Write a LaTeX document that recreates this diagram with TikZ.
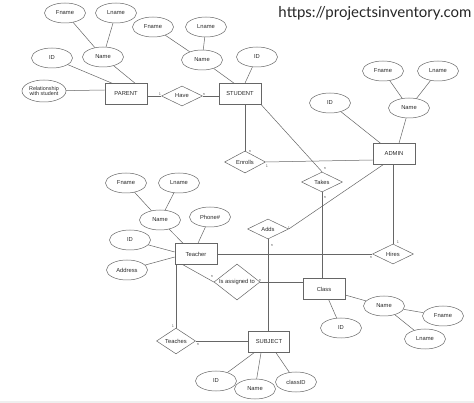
\documentclass[tikz,border=0pt]{standalone}
\usepackage{fontspec}
\setmainfont{Liberation Sans}
\newfontfamily\wmfont{Lato}
\usetikzlibrary{shapes.geometric}
\definecolor{ln}{HTML}{666666}
\definecolor{tx}{HTML}{2A2A2A}
\definecolor{strip}{HTML}{EFEFEF}
\begin{document}
\begin{tikzpicture}[x=1pt,y=-1pt,
  every node/.style={font=\fontsize{5.8}{6.4}\selectfont, text=tx},
  ent/.style={draw=ln, rectangle, minimum width=42pt, minimum height=21pt, inner sep=0pt, line width=0.6pt},
  attr/.style={draw=ln, ellipse, minimum width=41pt, minimum height=20pt, inner sep=0pt, line width=0.5pt},
  rel/.style={draw=ln, diamond, minimum width=41pt, minimum height=20pt, inner sep=0pt, line width=0.5pt},
  card/.style={font=\fontsize{3.8}{4}\selectfont, text=ln, inner sep=0pt},
  conn/.style={draw=ln, line width=0.5pt}]
\useasboundingbox (0,0) rectangle (474,403);
\fill[white] (0,0) rectangle (474,403);
\fill[strip] (0,401) rectangle (474,403);

% watermark
\node[font=\wmfont\fontsize{15}{17}\selectfont, text=black!85] (wm) at (375,13) {https://projectsinventory.com};

% PARENT
\node[ent] (parent) at (126,94) {PARENT};
\node[attr] (pF) at (65,13) {Fname};
\node[attr] (pL) at (116,13) {Lname};
\node[attr] (pN) at (103,57) {Name};
\node[attr] (pID) at (52,58) {ID};
\node[attr, minimum width=44pt, minimum height=22pt, align=center, font=\fontsize{5.4}{5.8}\selectfont] (pRel) at (44,91) {Relationship\\with student};

% STUDENT
\node[ent] (student) at (240,94) {STUDENT};
\node[attr] (sF) at (153,27) {Fname};
\node[attr] (sL) at (206,27) {Lname};
\node[attr] (sN) at (202,60) {Name};
\node[attr] (sID) at (257,57) {ID};

\node[rel] (have) at (182,96) {Have};

% ADMIN
\node[ent] (admin) at (394,154) {ADMIN};
\node[attr] (aF) at (383,71) {Fname};
\node[attr] (aL) at (438,71) {Lname};
\node[attr] (aN) at (409,108) {Name};
\node[attr] (aID) at (330,103) {ID};

\node[rel] (enrolls) at (245,162) {Enrolls};
\node[rel] (takes) at (322,182) {Takes};
\node[rel] (adds) at (268,229) {Adds};
\node[rel] (hires) at (393,254) {Hires};

% Teacher
\node[ent] (teacher) at (196,254) {Teacher};
\node[attr] (tF) at (126,183) {Fname};
\node[attr] (tL) at (179,183) {Lname};
\node[attr] (tN) at (160,220) {Name};
\node[attr] (tP) at (210,217) {Phone\#};
\node[attr] (tID) at (130,240) {ID};
\node[attr] (tA) at (127,270) {Address};

\node[rel, minimum width=46pt, minimum height=36pt] (assigned) at (237,282) {\makebox[0pt]{Is assigned to}};
\node[rel, minimum width=39pt, minimum height=18pt] (teaches) at (176,341) {Teaches};

% Class
\node[ent] (class) at (324,289) {Class};
\node[attr] (cID) at (341,328) {ID};
\node[attr] (cN) at (384,306) {Name};
\node[attr] (cF) at (443,316) {Fname};
\node[attr] (cL) at (425,339) {Lname};

% SUBJECT
\node[ent, minimum width=41pt] (subject) at (269,342) {SUBJECT};
\node[attr] (suID) at (216,381) {ID};
\node[attr] (suN) at (255,389) {Name};
\node[attr] (suC) at (296,382) {classID};

% attribute connectors
\path[conn] (pF) -- (pN);
\path[conn] (pL) -- (pN);
\path[conn] (pN) -- ([xshift=9pt]parent.north);
\path[conn] (pID) -- ([xshift=-14pt]parent.north);
\path[conn] (pRel) -- ([yshift=4pt]parent.west);

\path[conn] (sF) -- (sN);
\path[conn] (sL) -- (sN);
\path[conn] (sN) -- ([xshift=-6pt]student.north);
\path[conn] (sID) -- (student);

\path[conn] (aF) -- (aN);
\path[conn] (aL) -- (aN);
\path[conn] (aN) -- ([xshift=5pt]admin.north);
\path[conn] (aID) -- (admin);

\path[conn] (tF) -- (tN);
\path[conn] (tL) -- (tN);
\path[conn] (tN) -- ([xshift=-13pt]teacher.north);
\path[conn] (tP) -- ([xshift=2pt]teacher.north);
\path[conn] (tID) -- ([yshift=2pt]teacher.west);
\path[conn] (tA) -- ([yshift=-3pt]teacher.west);

\path[conn] (class) -- (cID);
\path[conn] (class) -- (cN);
\path[conn] (cN) -- (cF);
\path[conn] (cN) -- (cL);

\path[conn] ([xshift=-15pt]subject.south) -- (suID);
\path[conn] ([xshift=-8pt]subject.south) -- (suN);
\path[conn] ([xshift=7pt]subject.south) -- (suC);

% relationship connectors
\path[conn] (parent.east |- have.west) -- (have.west);
\path[conn] (have.east) -- (student.west |- have.east);
\path[conn] (enrolls.north |- student.south) -- (enrolls.north);
\path[conn] (enrolls.east) -- ([yshift=-6pt]admin.west);
\path[conn] (student.south east) -- (takes.north);
\path[conn] (takes.south) -- (class.north -| takes.south);
\path[conn] ([xshift=-11pt]admin.south) -- (adds.east);
\path[conn] (adds.south) -- (subject.north -| adds.south);
\path[conn] (hires.north |- admin.south) -- (hires.north);
\path[conn] (teacher.east) -- (hires.west);
\path[conn] ([xshift=-13pt]teacher.south) -- (assigned.west);
\path[conn] (assigned.east) -- (class.west |- assigned.east);
\path[conn] (teaches.north |- teacher.south) -- (teaches.north);
\path[conn] (teaches.east) -- (subject.west |- teaches.east);

% cardinalities
\node[card] (c1) at (160,94) {1};
\node[card] (c2) at (204,94) {n};
\node[card] (c3) at (250,151) {n};
\node[card] (c4) at (267,166) {1};
\node[card] (c5) at (325,168) {n};
\node[card] (c6) at (325,197) {n};
\node[card] (c7) at (289,228) {1};
\node[card] (c8) at (272,245) {n};
\node[card] (c9) at (398,242) {1};
\node[card] (c10) at (371,257) {n};
\node[card] (c11) at (212,276) {n};
\node[card] (c12) at (260,280) {n};
\node[card] (c13) at (173,326) {1};
\node[card] (c14) at (198,344) {n};
\end{tikzpicture}
\end{document}
